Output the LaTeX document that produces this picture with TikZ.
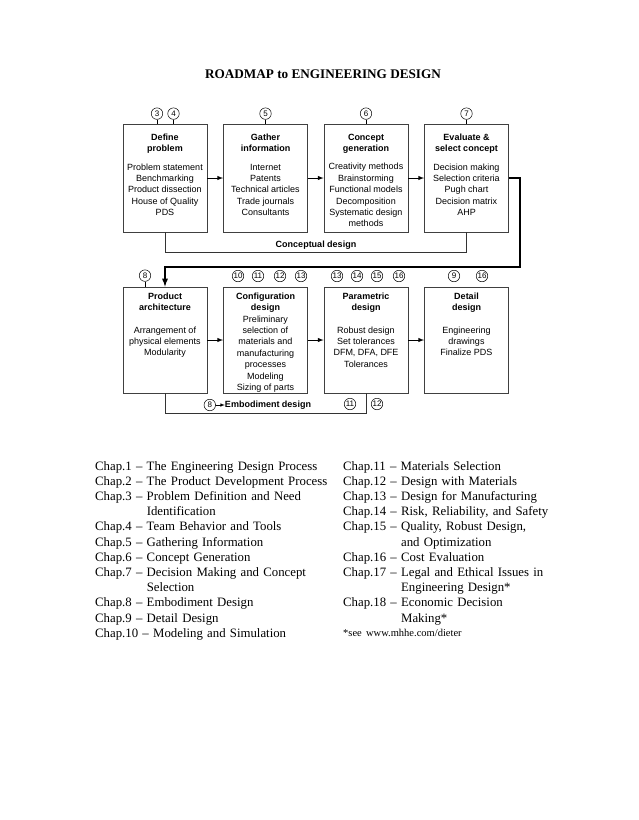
\documentclass[tikz,border=0pt]{standalone}
\usepackage{fontspec}
\setmainfont{Liberation Serif}
\setsansfont{Liberation Sans}
\usepackage{tikz}
\usetikzlibrary{positioning}
\usetikzlibrary{arrows}

\newlength{\chapw}
\newcommand{\chapitem}[2]{\settowidth{\chapw}{Chap.#1 -- }\hangindent=\chapw\hangafter=1\noindent Chap.#1 -- #2\par}

\tikzset{
  heading/.style={font=\bfseries\fontsize{13.2}{16}\selectfont, inner sep=0pt},
  stage/.style={draw=black!75, line width=0.8pt, minimum width=84pt, minimum height=108pt, inner sep=0pt},
  stagelow/.style={stage, minimum height=106pt},
  stagetext/.style={font=\sffamily\fontsize{9}{11.4}\selectfont, align=center, inner sep=0pt},
  num/.style={circle, draw, line width=0.5pt, minimum size=11.5pt, inner sep=0pt, font=\sffamily\fontsize{8}{8}\selectfont},
  tick/.style={line width=0.5pt},
  flow/.style={->, >=latex, line width=1pt},
  bracket/.style={draw=black!80, line width=0.7pt},
  loopline/.style={->, >=latex, line width=1.7pt},
  phase/.style={font=\sffamily\bfseries\fontsize{9}{11}\selectfont, inner sep=0pt},
  chaplist/.style={font=\fontsize{12.8}{15.2}\selectfont, text width=260pt, align=left, inner sep=0pt, anchor=north west}
}

\begin{document}
\begin{tikzpicture}[x=1pt, y=-1pt]
\useasboundingbox (0,0) rectangle (638,820);

\node[heading] (title) at (323,74) {ROADMAP to ENGINEERING DESIGN};

\node[stage] (s1) at (165,178) {};
\node[stage, right of=s1, node distance=100.5pt] (s2) {};
\node[stage, right of=s2, node distance=100.5pt] (s3) {};
\node[stage, right of=s3, node distance=100.5pt] (s4) {};

\node[stagetext, below=10pt of s1.north] (t1) {\textbf{Define}\\\textbf{problem}\\[7pt]Problem statement\\Benchmarking\\Product dissection\\House of Quality\\PDS};
\node[stagetext, below=10pt of s2.north] (t2) {\textbf{Gather}\\\textbf{information}\\[7pt]Internet\\Patents\\Technical articles\\Trade journals\\Consultants};
\node[stagetext, below=10pt of s3.north] (t3) {\textbf{Concept}\\\textbf{generation}\\[7pt]Creativity methods\\Brainstorming\\Functional models\\Decomposition\\Systematic design\\methods};
\node[stagetext, below=10pt of s4.north] (t4) {\textbf{Evaluate \&}\\\textbf{select concept}\\[7pt]Decision making\\Selection criteria\\Pugh chart\\Decision matrix\\AHP};

\node[stagelow, below of=s1, node distance=162pt] (s5) {};
\node[stagelow, right of=s5, node distance=100.5pt] (s6) {};
\node[stagelow, right of=s6, node distance=100.5pt] (s7) {};
\node[stagelow, right of=s7, node distance=100.5pt] (s8) {};

\node[stagetext, below=6pt of s5.north] (t5) {\textbf{Product}\\\textbf{architecture}\\[11pt]Arrangement of\\physical elements\\Modularity};
\node[stagetext, below=6pt of s6.north] (t6) {\textbf{Configuration}\\\textbf{design}\\Preliminary\\selection of\\materials and\\manufacturing\\processes\\Modeling\\Sizing of parts};
\node[stagetext, below=6pt of s7.north] (t7) {\textbf{Parametric}\\\textbf{design}\\[11pt]Robust design\\Set tolerances\\DFM, DFA, DFE\\Tolerances};
\node[stagetext, below=6pt of s8.north] (t8) {\textbf{Detail}\\\textbf{design}\\[11pt]Engineering\\drawings\\Finalize PDS};

\node[num, above=4pt of s1.north, xshift=-8pt] (n3) {3};
\node[num, right=4.5pt of n3] (n4) {4};
\node[num, above=4pt of s2.north] (n5) {5};
\node[num, above=4pt of s3.north] (n6) {6};
\node[num, above=4pt of s4.north] (n7) {7};
\draw[tick] (n3.south) -- (n3.south |- s1.north);
\draw[tick] (n4.south) -- (n4.south |- s1.north);
\draw[tick] (n5) -- (s2);
\draw[tick] (n6) -- (s3);
\draw[tick] (n7) -- (s4);

\node[num, above=5pt of s5.north, xshift=-20pt] (n8) {8};
\draw[tick] (n8.south) -- (n8.south |- s5.north);
\node[num] (r10) at (238,276) {10};
\node[num] (r11) at (258,276) {11};
\node[num] (r12) at (280,276) {12};
\node[num] (r13) at (301,276) {13};
\node[num] (p13) at (337,276) {13};
\node[num] (p14) at (357,276) {14};
\node[num] (p15) at (377,276) {15};
\node[num] (p16) at (399,276) {16};
\node[num] (d9) at (454,276) {9};
\node[num] (d16) at (482,276) {16};

\draw[flow] (s1) -- (s2);
\draw[flow] (s2) -- (s3);
\draw[flow] (s3) -- (s4);
\draw[flow] (s5) -- (s6);
\draw[flow] (s6) -- (s7);
\draw[flow] (s7) -- (s8);

\draw[bracket] (s1.south) -- ++(0,20) -| (s4.south);
\node[phase] (conceptual) at (316,245) {Conceptual design};

\coordinate (turn) at (520,267);
\draw[loopline] (s4.east) -| (turn) -| (s5.north);

\draw[bracket] (s5.south) -- ++(0,20) -| (s7.south);
\node[phase] (embodiment) at (268,405) {Embodiment design};
\node[num, left=9pt of embodiment] (b8) {8};
\draw[->, >=latex, line width=0.5pt] (b8) -- (embodiment);
\node[num] (b11) at (350,404) {11};
\node[num] (b12) at (377,404) {12};

\node[chaplist] (leftlist) at (95,461) {%
\chapitem{1}{The Engineering Design Process}
\chapitem{2}{The Product Development Process}
\chapitem{3}{Problem Definition and Need\newline Identification}
\chapitem{4}{Team Behavior and Tools}
\chapitem{5}{Gathering Information}
\chapitem{6}{Concept Generation}
\chapitem{7}{Decision Making and Concept\newline Selection}
\chapitem{8}{Embodiment Design}
\chapitem{9}{Detail Design}
\chapitem{10}{Modeling and Simulation}};

\node[chaplist, text width=230pt] (rightlist) at (343,461) {%
\chapitem{11}{Materials Selection}
\chapitem{12}{Design with Materials}
\chapitem{13}{Design for Manufacturing}
\chapitem{14}{Risk, Reliability, and Safety}
\chapitem{15}{Quality, Robust Design,\newline and Optimization}
\chapitem{16}{Cost Evaluation}
\chapitem{17}{Legal and Ethical Issues in\newline Engineering Design*}
\chapitem{18}{Economic Decision\newline Making*}
{\fontsize{10.5}{14}\selectfont\noindent *see www.mhhe.com/dieter\par}};
\end{tikzpicture}
\end{document}
